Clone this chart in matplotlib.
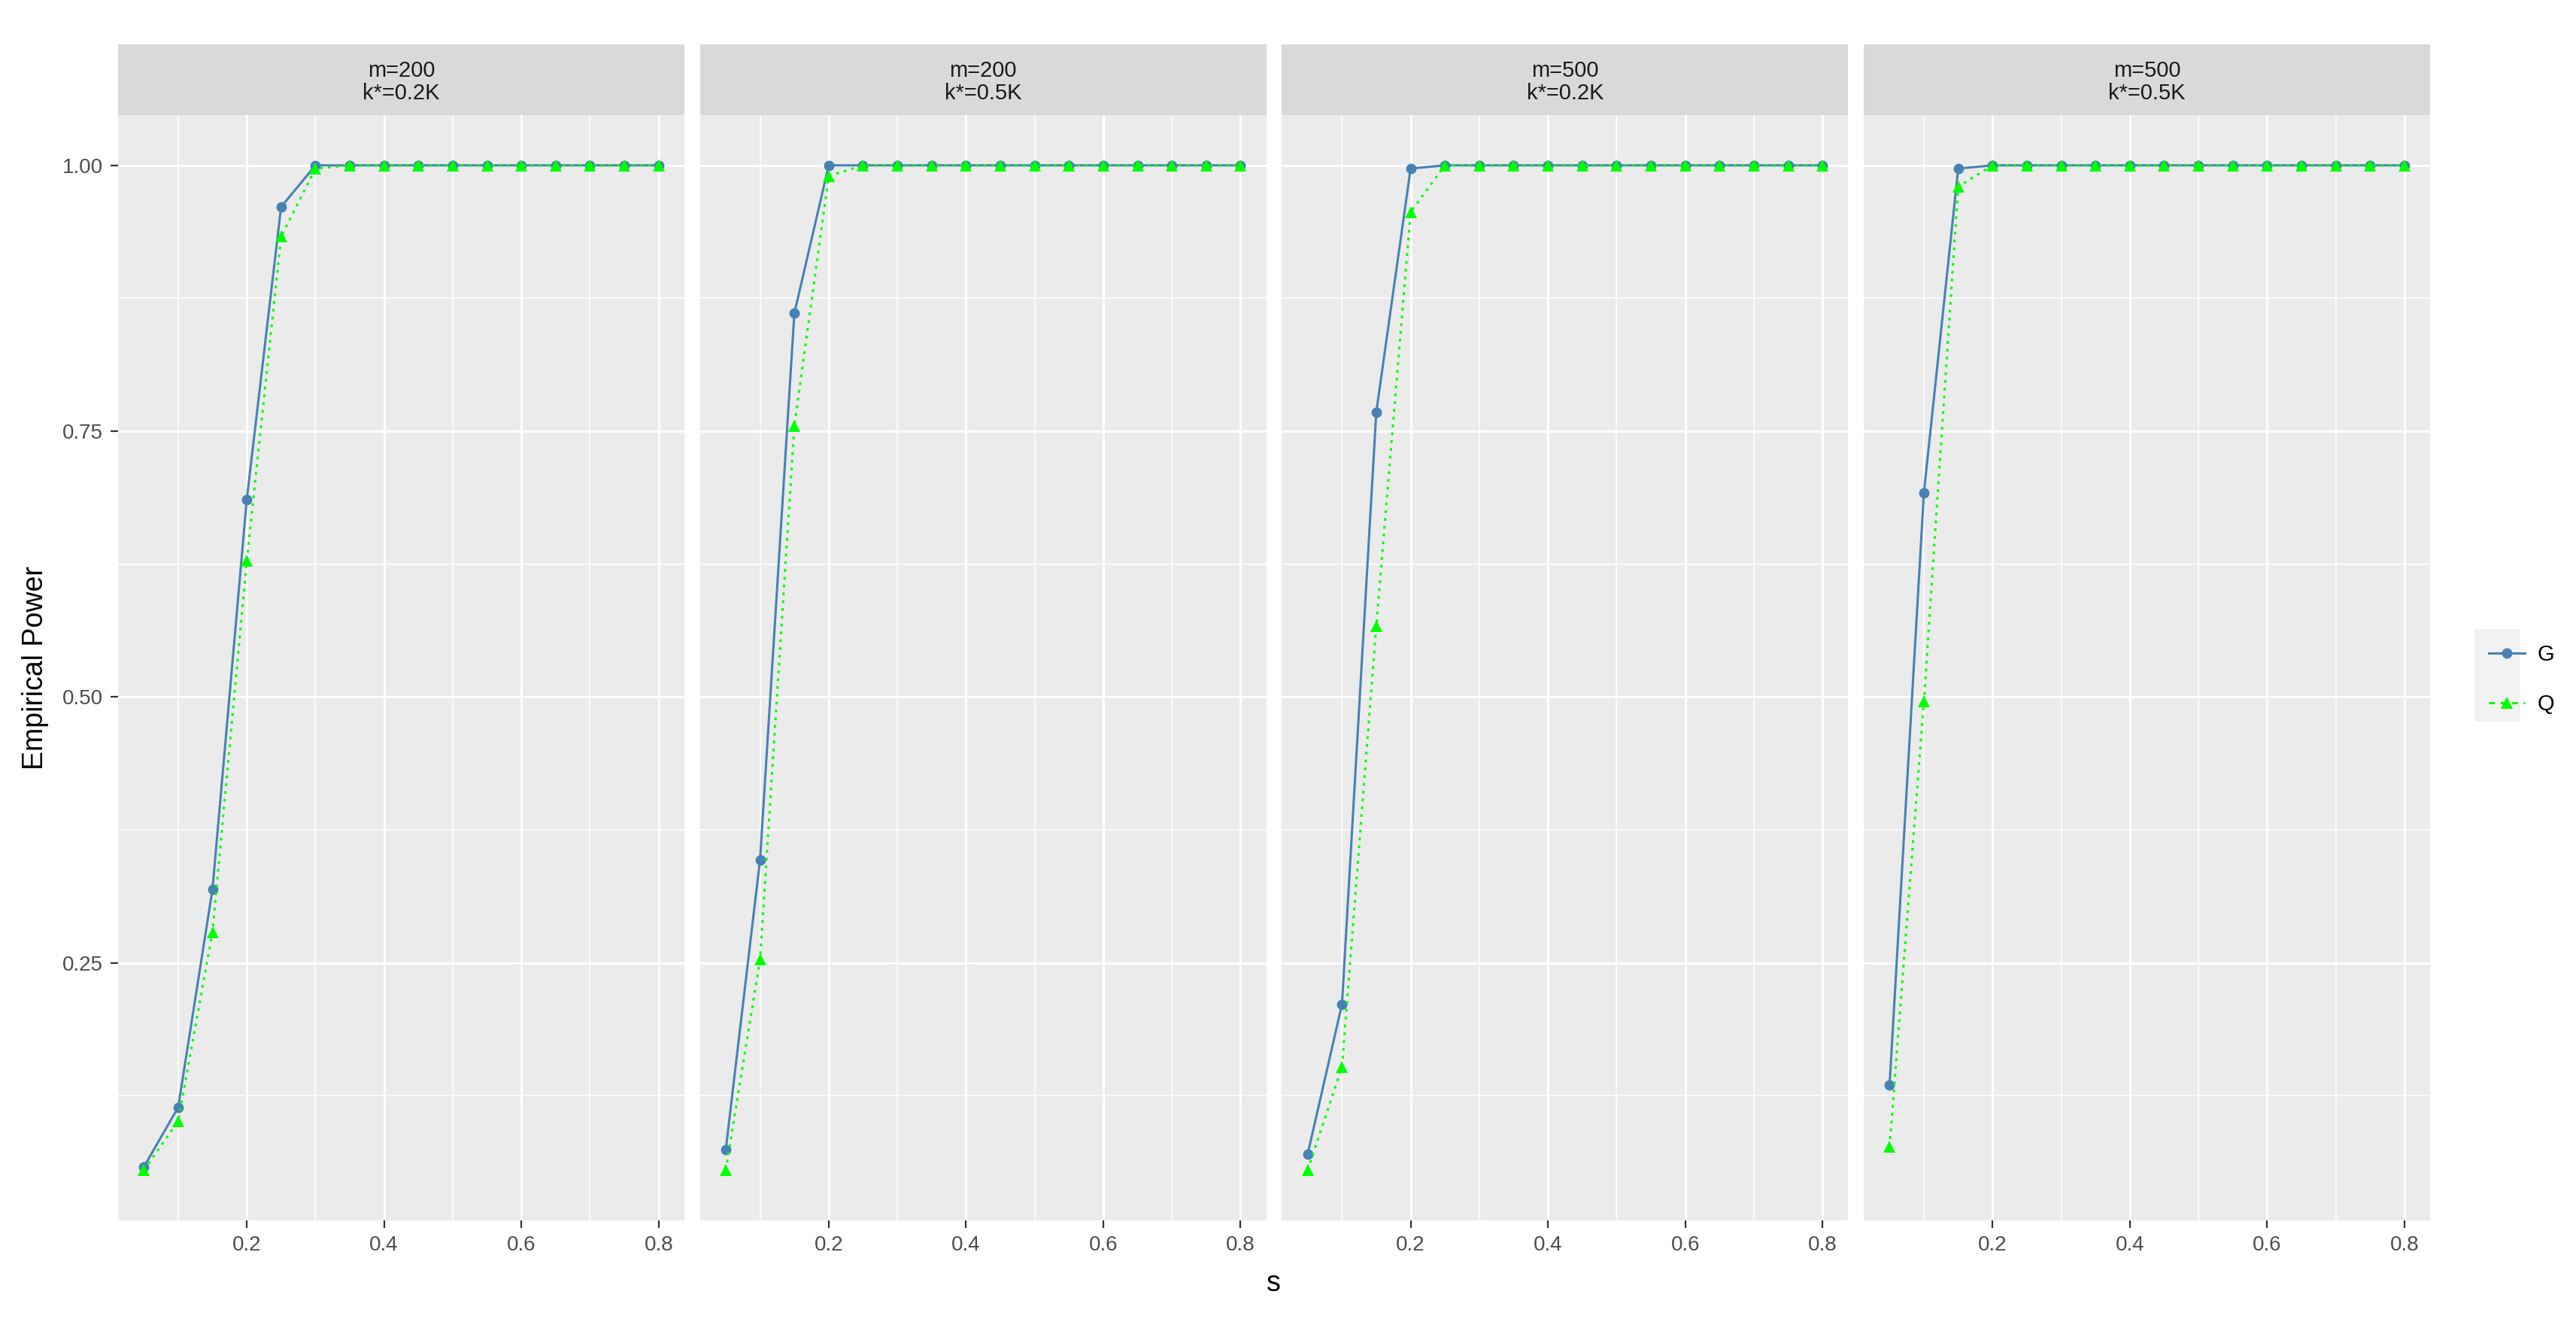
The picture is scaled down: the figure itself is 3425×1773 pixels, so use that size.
import matplotlib
matplotlib.use("Agg")
import matplotlib.pyplot as plt
from matplotlib.patches import Rectangle
from matplotlib.lines import Line2D

plt.rcParams['font.family'] = ['Liberation Sans', 'DejaVu Sans']

s = [0.05, 0.10, 0.15, 0.20, 0.25, 0.30, 0.35, 0.40,
     0.45, 0.50, 0.55, 0.60, 0.65, 0.70, 0.75, 0.80]

panelTitles = ["m=200\nk*=0.2K", "m=200\nk*=0.5K", "m=500\nk*=0.2K", "m=500\nk*=0.5K"]

g_m200_k02 = [0.058, 0.114, 0.319, 0.686, 0.961, 1.0, 1.0, 1.0, 1.0, 1.0, 1.0, 1.0, 1.0, 1.0, 1.0, 1.0]
q_m200_k02 = [0.055, 0.101, 0.279, 0.628, 0.933, 0.997, 1.0, 1.0, 1.0, 1.0, 1.0, 1.0, 1.0, 1.0, 1.0, 1.0]
g_m200_k05 = [0.074, 0.347, 0.861, 1.0, 1.0, 1.0, 1.0, 1.0, 1.0, 1.0, 1.0, 1.0, 1.0, 1.0, 1.0, 1.0]
q_m200_k05 = [0.055, 0.253, 0.755, 0.990, 1.0, 1.0, 1.0, 1.0, 1.0, 1.0, 1.0, 1.0, 1.0, 1.0, 1.0, 1.0]
g_m500_k02 = [0.070, 0.211, 0.768, 0.997, 1.0, 1.0, 1.0, 1.0, 1.0, 1.0, 1.0, 1.0, 1.0, 1.0, 1.0, 1.0]
q_m500_k02 = [0.055, 0.152, 0.567, 0.956, 1.0, 1.0, 1.0, 1.0, 1.0, 1.0, 1.0, 1.0, 1.0, 1.0, 1.0, 1.0]
g_m500_k05 = [0.135, 0.692, 0.997, 1.0, 1.0, 1.0, 1.0, 1.0, 1.0, 1.0, 1.0, 1.0, 1.0, 1.0, 1.0, 1.0]
q_m500_k05 = [0.077, 0.496, 0.980, 1.0, 1.0, 1.0, 1.0, 1.0, 1.0, 1.0, 1.0, 1.0, 1.0, 1.0, 1.0, 1.0]

gSeries = [g_m200_k02, g_m200_k05, g_m500_k02, g_m500_k05]
qSeries = [q_m200_k02, q_m200_k05, q_m500_k02, q_m500_k05]

xMajor = [0.2, 0.4, 0.6, 0.8]
xMinor = [0.1, 0.3, 0.5, 0.7]
yMajor = [0.25, 0.50, 0.75, 1.00]
yMinor = [0.125, 0.375, 0.625, 0.875]
yLabels = ["0.25", "0.50", "0.75", "1.00"]

G_COLOR = "#4682B4"
Q_COLOR = "#00FF00"

W, H = 3425, 1773
fig = plt.figure(figsize=(W / 200, H / 200), dpi=200)

def box(x0, y0, x1, y1):
    # pixel box (top-left origin) -> figure fraction rect
    return [x0 / W, 1 - y1 / H, (x1 - x0) / W, (y1 - y0) / H]

# ggplot-like expanded limits
allVals = [v for ser in gSeries + qSeries for v in ser]
lo, hi = min(allVals), max(allVals)
yPad = 0.05 * (hi - lo)
xPad = 0.05 * (max(s) - min(s))

panelW = 753
gap = 20.7
for i in range(4):
    x0 = 157 + i * (panelW + gap)
    ax = fig.add_axes(box(x0, 153, x0 + panelW, 1622))
    ax.set_facecolor("#EBEBEB")
    for sp in ax.spines.values():
        sp.set_visible(False)
    ax.set_xlim(min(s) - xPad, max(s) + xPad)
    ax.set_ylim(lo - yPad, hi + yPad)
    ax.set_xticks(xMajor)
    ax.set_xticklabels([str(v) for v in xMajor])
    ax.set_xticks(xMinor, minor=True)
    ax.set_yticks(yMajor)
    ax.set_yticks(yMinor, minor=True)
    ax.grid(which='major', color='white', linewidth=1.1)
    ax.grid(which='minor', color='white', linewidth=0.55)
    ax.set_axisbelow(True)
    ax.tick_params(which='major', length=3.6, width=0.8, color='#333333',
                   labelsize=10, labelcolor='#4D4D4D', pad=3.5)
    ax.tick_params(which='minor', length=0)
    if i == 0:
        ax.set_yticklabels(yLabels)
    else:
        ax.set_yticklabels([])
        ax.tick_params(axis='y', which='major', length=0)

    ax.plot(s, gSeries[i], color=G_COLOR, linewidth=1.1, marker='o',
            markersize=5.0, markeredgewidth=0)
    ax.plot(s, qSeries[i], color=Q_COLOR, linewidth=1.1, linestyle=(0, (1.2, 2.2)),
            marker='^', markersize=5.6, markeredgewidth=0)

    strip = fig.add_axes(box(x0, 59, x0 + panelW, 153))
    strip.set_facecolor("#D9D9D9")
    strip.set_xticks([])
    strip.set_yticks([])
    for sp in strip.spines.values():
        sp.set_visible(False)
    strip.text(0.5, 0.47, panelTitles[i], ha='center', va='center', fontsize=10.5,
               color='#1A1A1A', linespacing=1.1, transform=strip.transAxes)

fig.text(1693 / W, 1 - 1706 / H, "s", ha='center', va='center', fontsize=13.5)
fig.text(47 / W, 1 - 888 / H, "Empirical Power", ha='center', va='center',
         rotation=90, fontsize=13.5)

# legend: gray key boxes, labels on white
fig.patches.append(Rectangle((3290 / W, 1 - 959 / H), 61 / W, 123 / H,
                             transform=fig.transFigure, facecolor="#F2F2F2",
                             edgecolor='none', zorder=0))
handles = [Line2D([], [], color=G_COLOR, linewidth=1.1, marker='o', markersize=5.0,
                  markeredgewidth=0),
           Line2D([], [], color=Q_COLOR, linewidth=1.1, linestyle=(0, (2.5, 2.5)),
                  marker='^', markersize=5.6, markeredgewidth=0)]
fig.legend(handles, ["G", "Q"], loc='center left',
           bbox_to_anchor=(3283 / W, 1 - 903 / H), frameon=False, fontsize=10.5,
           handlelength=1.65, handletextpad=0.55, labelspacing=1.3, borderpad=0.4)

fig.savefig("out.png", dpi=200)
